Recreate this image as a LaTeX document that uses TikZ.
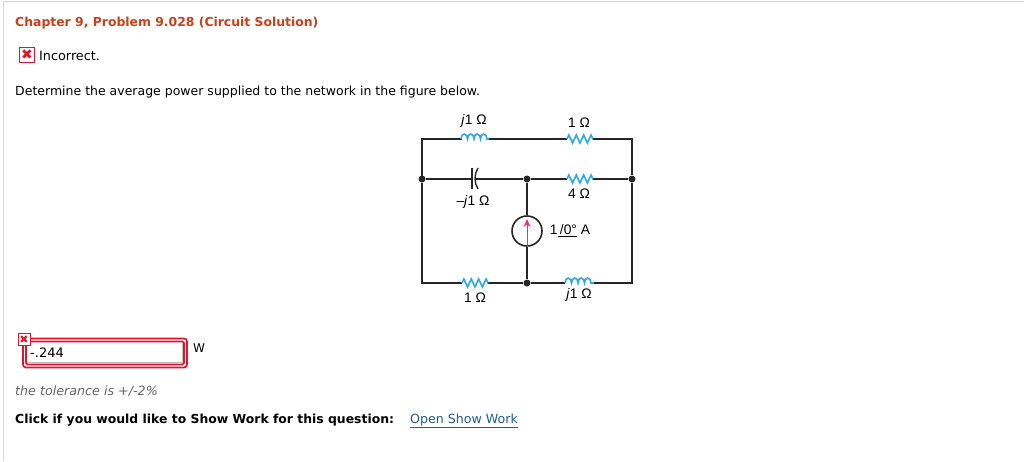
\documentclass[tikz,border=0pt]{standalone}
\usepackage{fontspec}
\setmainfont{DejaVu Sans}
\newfontfamily\figfont{Liberation Sans}
\usepackage[HTML]{xcolor}
\usetikzlibrary{arrows.meta, decorations.pathmorphing}

\definecolor{titlered}{HTML}{C8401C}
\definecolor{errred}{HTML}{E2132B}
\definecolor{wirecyan}{HTML}{2FA9E6}
\definecolor{linkblue}{HTML}{1F5F8F}
\definecolor{edgeblue}{HTML}{CBD8E6}
\definecolor{arrowpink}{HTML}{EC2A8E}

\tikzset{
  txt/.style={anchor=base west, inner sep=0pt, font=\fontsize{12.5}{15}\selectfont},
  lab/.style={inner sep=0pt, font=\figfont\fontsize{13.8}{15}\selectfont},
  wire/.style={line width=2pt, black!85},
  junc/.style={circle, fill=black!85, inner sep=0pt, minimum size=7pt},
  resistor/.style={line width=1.6pt, wirecyan, decorate, decoration={zigzag, segment length=7.4pt, amplitude=4pt}},
  inductor/.style={line width=1.6pt, wirecyan, decorate, decoration={bumps, segment length=13pt, amplitude=5pt}},
  errbox/.style={draw=errred, fill=white, line width=1.3pt, inner sep=0pt, text=errred}
}

\begin{document}
\begin{tikzpicture}[x=1pt,y=-1pt]
\useasboundingbox (0,0) rectangle (1024,461);
\fill[white] (0,0) rectangle (1024,461);

% --- Page edge ---
\draw[edgeblue, line width=1pt] (3.5,461) -- (3.5,1.5) -- (1024,1.5);

% --- Question text ---
\node[txt, titlered, font=\fontsize{12.4}{15}\selectfont\bfseries] (title) at (15,26) {Chapter 9, Problem 9.028 (Circuit Solution)};
\node[errbox, minimum size=15pt] (errmark) at (27,55) {\fontsize{14}{14}\selectfont ✖};
\node[txt, font=\fontsize{12.8}{15}\selectfont] (verdict) at (39,60) {Incorrect.};
\node[txt] (question) at (15,95) {Determine the average power supplied to the network in the figure below.};

% --- Junctions and corners ---
\node[junc] (midL) at (422,179) {};
\node[junc] (midC) at (527,179) {};
\node[junc] (midR) at (632,179) {};
\node[junc] (botC) at (527,283) {};
\coordinate (topL) at (422,139);
\coordinate (topR) at (632,139);
\coordinate (botL) at (422,283);
\coordinate (botR) at (632,283);

% --- Component ends ---
\coordinate (l1a) at (461,139);
\coordinate (l1b) at (489,139);
\coordinate (r1a) at (567,139);
\coordinate (r1b) at (593,139);
\coordinate (c1a) at (472,179);
\coordinate (c1b) at (475,179);
\coordinate (r2a) at (567,179);
\coordinate (r2b) at (593,179);
\coordinate (r3a) at (462,283);
\coordinate (r3b) at (488,283);
\coordinate (l2a) at (565,283);
\coordinate (l2b) at (594,283);
\node[draw, black!85, circle, line width=1.6pt, minimum size=30pt, inner sep=0pt] (src) at (527,231) {};

% --- Wires ---
\draw[wire, line cap=rect] (midL) -- (topL) -- (l1a);
\draw[wire] (l1b) -- (r1a);
\draw[wire] (r1b) -- (topR) -- (midR);
\draw[wire] (midL) -- (c1a);
\draw[wire] (c1b) -- (midC) -- (r2a);
\draw[wire] (r2b) -- (midR);
\draw[wire] (midL) -- (botL) -- (r3a);
\draw[wire] (r3b) -- (botC) -- (l2a);
\draw[wire] (l2b) -- (botR) -- (midR);
\draw[wire] (midC) -- (src);
\draw[wire] (src) -- (botC);

% --- Components ---
\draw[inductor] (l1a) -- (l1b);
\draw[resistor] (r1a) -- (r1b);
\draw[resistor] (r2a) -- (r2b);
\draw[resistor] (r3a) -- (r3b);
\draw[inductor] (l2a) -- (l2b);
\draw[line width=1.4pt, black!85] (472,168) -- (472,189); % flat plate
\draw[line width=1.4pt, black!85] (478,168) .. controls (474,174) and (474,183) .. (478,189); % curved plate
\draw[-{Stealth[length=8pt,width=7pt]}, line width=1pt, arrowpink] (src.south) -- (527,219);

% --- Circuit labels ---
\node[lab] (labL1) at (474,121) {\textit{j}1 Ω};
\node[lab] (labR1) at (579,123) {1 Ω};
\node[lab] (labR2) at (579,194) {4 Ω};
\node[lab] (labC1) at (473,202) {–\textit{j}1 Ω};
\node[lab] (labSrc) at (570,231) {1\underline{\,/0°} A};
\node[lab] (labR3) at (475,298) {1 Ω};
\node[lab] (labL2) at (579,295) {\textit{j}1 Ω};

% --- Answer box ---
\draw[errred, line width=1.7pt, rounded corners=3pt] (23,338.5) rectangle (187,367.5);
\draw[errred, line width=1.7pt, rounded corners=1.5pt] (26,341.5) rectangle (184,364.5);
\draw[black!25, line width=1pt] (28,362.5) -- (182.5,362.5) -- (182.5,343);
\node[errbox, minimum size=12pt, line width=1pt] (errsmall) at (24,339.5) {\fontsize{11}{11}\selectfont ✖};
\node[txt, font=\fontsize{13}{15}\selectfont] (answer) at (30,357) {-.244};
\node[txt, font=\fontsize{12}{14}\selectfont] (unit) at (193,352) {W};

% --- Footer text ---
\node[txt, black!60, font=\fontsize{12.7}{15}\selectfont\itshape] (tol) at (15,395) {the tolerance is +/-2\%};
\node[txt, font=\fontsize{12.4}{15}\selectfont\bfseries] (click) at (15,423) {Click if you would like to Show Work for this question:};
\node[txt, linkblue, font=\fontsize{12.6}{15}\selectfont] (link) at (410,423) {\underline{Open Show Work}};
\end{tikzpicture}
\end{document}
